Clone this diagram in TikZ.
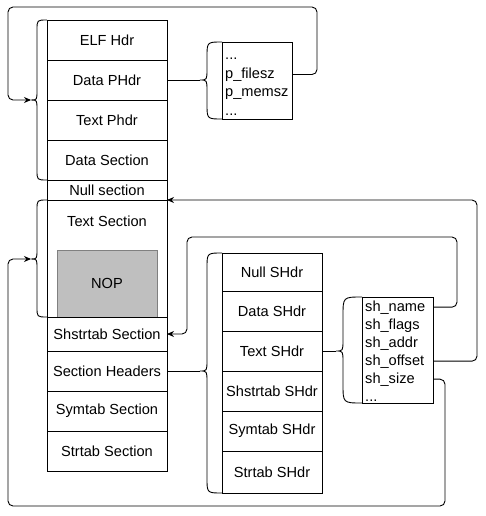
\documentclass[tikz,border=0pt]{standalone}
\usepackage{fontspec}
\setmainfont{Liberation Sans}
\usetikzlibrary{arrows.meta}
\newcommand\ebrace[6]{\draw[brc] (#1,#4) .. controls (#2,#4) .. (#2,{#4+(#1-#2)}) -- (#2,{#5-1.6*(#2-#3)}) .. controls (#2,#5) .. (#3,#5) .. controls (#2,#5) .. (#2,{#5+1.6*(#2-#3)}) -- (#2,{#6-(#1-#2)}) .. controls (#2,#6) .. (#1,#6);}
\begin{document}
\begin{tikzpicture}[x=1pt,y=-1pt,
  every node/.style={font=\fontsize{14.6}{17}\selectfont},
  cell/.style={draw,line width=0.9pt,minimum width=120pt,inner sep=0pt,outer sep=0pt},
  shcell/.style={draw,line width=0.9pt,minimum width=100pt,inner sep=0pt,outer sep=0pt},
  fld/.style={anchor=base west,inner sep=0pt},
  conn/.style={line width=0.9pt,rounded corners=5pt},
  arr/.style={conn,-{Stealth[length=7pt,width=6pt]}},
  brc/.style={line width=0.9pt}]
\useasboundingbox (0,0) rectangle (486,516);
% left column
\node[cell,minimum height=40pt] (elf) at (107,40) {ELF Hdr};
\node[cell,minimum height=40pt] (dph) at (107,80) {Data PHdr};
\node[cell,minimum height=40pt] (tph) at (107,120) {Text Phdr};
\node[cell,minimum height=40pt] (dsec) at (107,160) {Data Section};
\node[cell,minimum height=20pt] (nul) at (107,190) {Null section};
\node[draw=gray,fill=gray!50,line width=0.9pt,minimum width=100pt,minimum height=67pt,inner sep=0pt] (nop) at (107,283.5) {NOP};
\node[cell,minimum height=117pt] (tsec) at (107,258.5) {};
\node[inner sep=0pt] (tsl) at (107,221) {Text Section};
\node[cell,minimum height=34pt] (shs) at (107,334) {Shstrtab Section};
\node[cell,minimum height=40pt] (sech) at (107,371) {Section Headers};
\node[cell,minimum height=40pt] (sym) at (107,411) {Symtab Section};
\node[cell,minimum height=40pt] (str) at (107,451) {Strtab Section};
% section header column
\node[shcell,minimum height=38pt] (nsh) at (272,272) {Null SHdr};
\node[shcell,minimum height=40pt] (dsh) at (272,311) {Data SHdr};
\node[shcell,minimum height=40pt] (tsh) at (272,351) {Text SHdr};
\node[shcell,minimum height=40pt] (shsh) at (272,391) {Shstrtab SHdr};
\node[shcell,minimum height=40pt] (symsh) at (272,431) {Symtab SHdr};
\node[shcell,minimum height=42pt] (strsh) at (272,472) {Strtab SHdr};
% detail boxes
\node[draw,line width=0.9pt,minimum width=70pt,minimum height=77pt,inner sep=0pt] (d1) at (257,80.5) {};
\node[fld] (a1) at (225,60) {...};
\node[fld] (pf) at (225,78.3) {p\_filesz};
\node[fld] (pm) at (225,96.6) {p\_memsz};
\node[fld] (a2) at (225,115) {...};
\node[draw,line width=0.9pt,minimum width=71pt,minimum height=106pt,inner sep=0pt] (d2) at (397.5,350) {};
\node[fld] (sn) at (365,311) {sh\_name};
\node[fld] (sf) at (365,329) {sh\_flags};
\node[fld] (sa) at (365,347) {sh\_addr};
\node[fld] (so) at (365,365) {sh\_offset};
\node[fld] (sz) at (365,383) {sh\_size};
\node[fld] (a3) at (365,401) {...};
% braces
\ebrace{47}{37}{31}{20}{100}{180}
\ebrace{47}{37}{31}{200}{259}{317}
\ebrace{222}{207}{200}{42}{80}{119}
\ebrace{222}{207}{200}{253}{371}{493}
\ebrace{362}{343}{336}{297}{351}{403}
\coordinate (tip1) at (31,100);
\coordinate (tip2) at (31,259);
\coordinate (tip3) at (200,80);
\coordinate (tip4) at (200,371);
\coordinate (tip5) at (336,351);
% connectors
\draw[conn] (dph.east) -- (tip3);
\draw[conn] (sech.east) -- (tip4);
\draw[conn] (tsh.east) -- (tip5);
\draw[arr] (d1.east |- pf) -| (317,7) -| (8,100) -- (tip1);
\draw[arr] (d2.east |- sz) -| (445,506) -| (8,259) -- (tip2);
\draw[arr] (d2.east |- so) -| (477,200) -- (tsec.north east);
\draw[arr] (d2.east |- sn) -| (457,237) -| (187,334) -- (shs.east);
\end{tikzpicture}
\end{document}
